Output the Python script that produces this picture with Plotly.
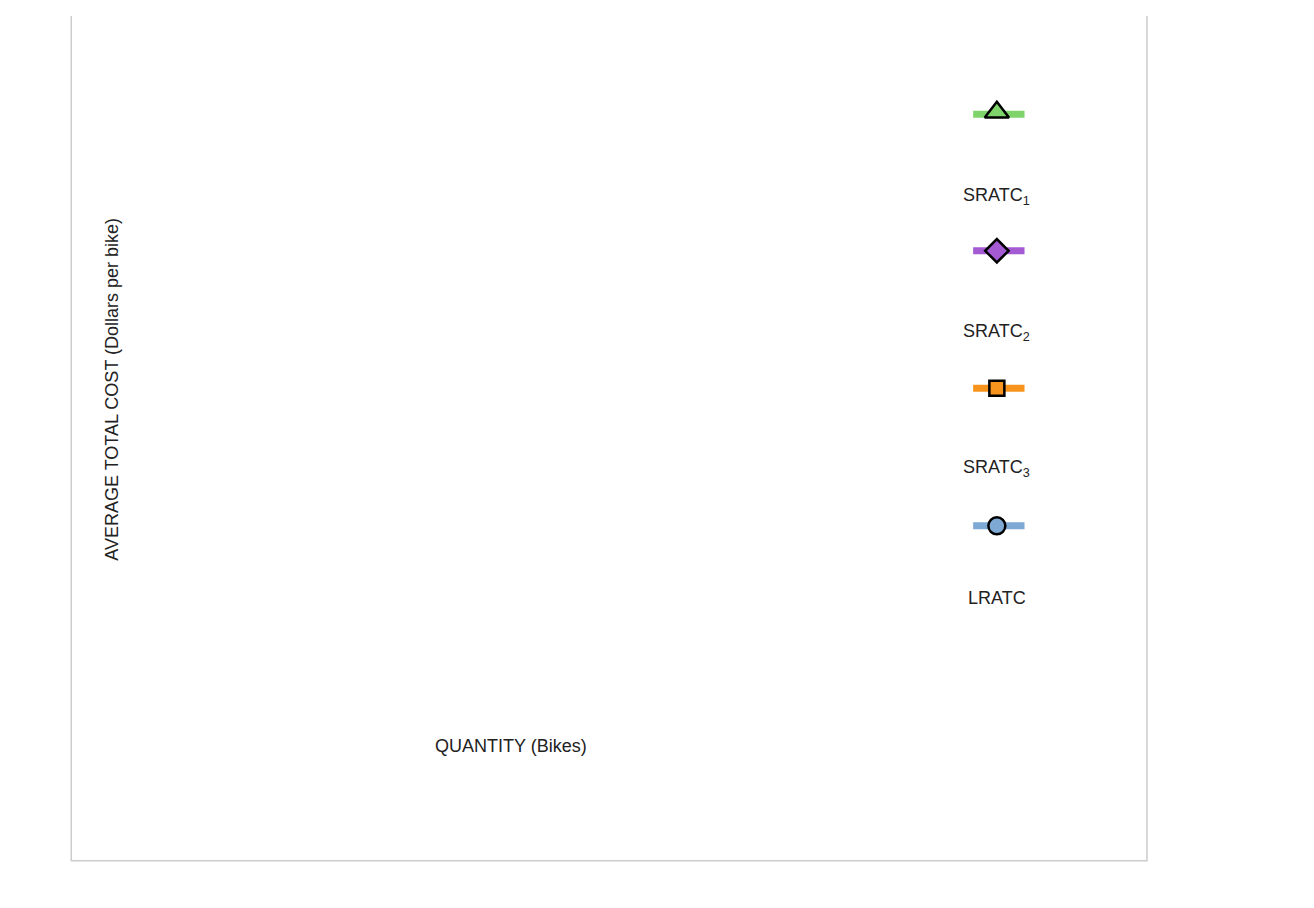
import plotly.graph_objects as go

# axis setup
x_ticks = [0, 100, 200, 300, 400, 500, 600, 700]
y_ticks = [0, 80, 160, 240, 320, 400, 480, 560, 640, 720, 800]

# palette items (drawn in page pixel space)
palette_names = ["SRATC<sub>1</sub>", "SRATC<sub>2</sub>", "SRATC<sub>3</sub>", "LRATC"]
palette_colors = ["#7ed36b", "#a45ad3", "#f7941d", "#7ea9d4"]
palette_symbols = ["triangle-up", "diamond", "square", "circle"]
palette_icon_y = [100, 239, 379, 519]
palette_label_y = [184, 322, 461, 592]
palette_x = 997

W, H = 1314, 908
fig = go.Figure()

# invisible trace to hold main axes
fig.add_trace(go.Scatter(x=[0, 700], y=[0, 800], mode="markers", marker=dict(opacity=0),
                         showlegend=False, hoverinfo="skip"))

for name, col, sym, iy, ly in zip(palette_names, palette_colors, palette_symbols,
                                  palette_icon_y, palette_label_y):
    fig.add_trace(go.Scatter(x=[palette_x - 24, palette_x + 28], y=[iy, iy], mode="lines",
                             line=dict(color=col, width=7), xaxis="x2", yaxis="y2",
                             showlegend=False, hoverinfo="skip"))
    fig.add_trace(go.Scatter(x=[palette_x], y=[iy - (2 if sym == "triangle-up" else 0)], mode="markers",
                             marker=dict(symbol=sym, color=col,
                                         size={"triangle-up": 21, "diamond": 18, "square": 15, "circle": 17}[sym],
                                         line=dict(color="black", width=2.5)),
                             xaxis="x2", yaxis="y2", showlegend=False, hoverinfo="skip"))
    fig.add_annotation(x=palette_x, y=ly, xref="x2", yref="y2", text=name, showarrow=False,
                       font=dict(size=18, color="#222", family="Arial"))

axis_common = dict(showline=True, linecolor="#555", linewidth=1.5, ticks="outside",
                   ticklen=6, tickcolor="#555", gridcolor="#e8e8e8", zeroline=False,
                   showgrid=True, tickfont=dict(size=14, color="#333", family="Arial"))

fig.update_layout(
    width=W, height=H, margin=dict(l=0, r=0, t=0, b=0), autosize=False,
    paper_bgcolor="white", plot_bgcolor="white",
    font=dict(family="Arial", color="#333"),
    xaxis=dict(domain=[183 / W, 827 / W], range=[0, 700], tickvals=x_ticks, anchor="y",
               title=dict(text="QUANTITY (Bikes)", font=dict(size=18, color="#222"), standoff=10),
               **axis_common),
    yaxis=dict(domain=[1 - 699 / H, 1 - 61 / H], range=[0, 800], tickvals=y_ticks, anchor="x",
               ticklabelstandoff=22,
               title=dict(text="AVERAGE TOTAL COST (Dollars per bike)", font=dict(size=18, color="#222"),
                          standoff=14),
               **axis_common),
    xaxis2=dict(domain=[0, 1], range=[0, W], visible=False, anchor="y2"),
    yaxis2=dict(domain=[0, 1], range=[H, 0], visible=False, anchor="x2"),
    shapes=[dict(type="rect", xref="x2", yref="y2", x0=60, x1=1149, y0=-10, y1=860,
                 line=dict(color="#cccccc", width=1.5), layer="below")],
)

fig.write_html("out.html")
